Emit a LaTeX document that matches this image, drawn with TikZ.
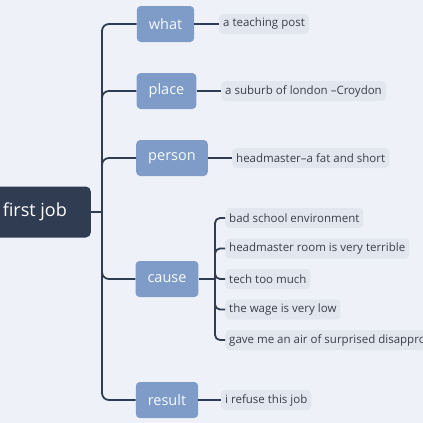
\documentclass[tikz,border=0pt]{standalone}
\usepackage{fontspec}
\setmainfont{Open Sans}
\definecolor{bgcol}{HTML}{EEF2F8}
\definecolor{rootcol}{HTML}{2F3C52}
\definecolor{topiccol}{HTML}{7E9CC7}
\definecolor{leafcol}{HTML}{E2E7EF}
\definecolor{leaftext}{HTML}{3A3F48}
\begin{document}
\begin{tikzpicture}[x=1pt, y=-1pt,
    rootbox/.style={fill=rootcol, text=white, rounded corners=5pt, minimum width=112pt, minimum height=51pt, font=\fontsize{18}{20}\selectfont},
    topic/.style={fill=topiccol, text=white!95!topiccol, rounded corners=4pt, minimum height=36pt, inner xsep=12pt, font=\fontsize{14.5}{16}\selectfont},
    leaf/.style={fill=leafcol, text=leaftext, rounded corners=4pt, minimum height=20pt, inner xsep=4pt, anchor=west, font=\fontsize{11.5}{13}\selectfont},
    link/.style={draw=rootcol, line width=1.8pt, rounded corners=7pt}]
    % Background
    \fill[bgcol] (0,0) rectangle (423,423);
    \clip (0,0) rectangle (423,423);

    % Root and topics
    \node[rootbox, anchor=east] (root) at (91,212) {first job};
    \node[topic] (what) at (165.5,24) {what};
    \node[topic] (place) at (166.5,91) {place};
    \node[topic] (person) at (172,158) {person};
    \node[topic] (cause) at (167,279) {cause};
    \node[topic] (result) at (167,400) {result};

    % Leaves
    \node[leaf] (post) at (219,24) {a teaching post};
    \node[leaf] (suburb) at (221,91) {a suburb of london –Croydon};
    \node[leaf] (head) at (232,158) {headmaster–a fat and short};
    \node[leaf] (school) at (225,218) {bad school environment};
    \node[leaf] (room) at (225,248.5) {headmaster room is very terrible};
    \node[leaf] (tech) at (225,279) {tech too much};
    \node[leaf] (wage) at (225,309.5) {the wage is very low};
    \node[leaf] (air) at (225,340) {gave me an air of surprised disapproval};
    \node[leaf] (refuse) at (221,400) {i refuse this job};

    % Trunk
    \coordinate (trunk) at (102,212);
    \draw[link] (root.east) -- (trunk);
    \foreach \t in {what, place, person, cause, result}
        \draw[link] (trunk) |- (\t.west);

    % Topic to leaf
    \draw[link] (what.east) -- (post.west);
    \draw[link] (place.east) -- (suburb.west);
    \draw[link] (person.east) -- (head.west);
    \draw[link] (result.east) -- (refuse.west);
    \coordinate (fork) at (215,279);
    \draw[link] (cause.east) -- (fork);
    \foreach \c in {school, room, tech, wage, air}
        \draw[link, rounded corners=5pt] (fork) |- (\c.west);
\end{tikzpicture}
\end{document}
